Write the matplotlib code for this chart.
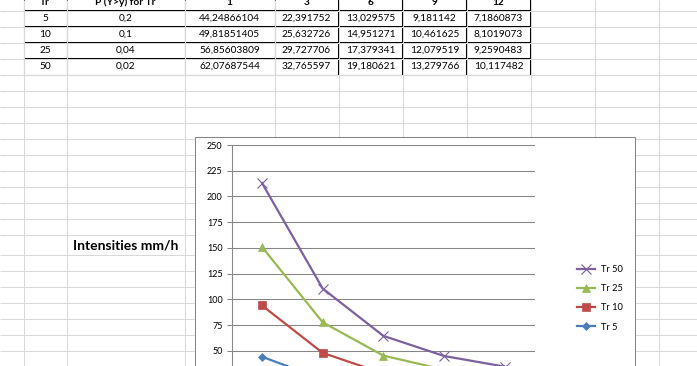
import numpy as np
import matplotlib
matplotlib.use("Agg")
import matplotlib.pyplot as plt
from matplotlib.patches import Rectangle

plt.rcParams['font.family'] = ['Lato', 'DejaVu Sans']

# spreadsheet data
durations = ['1', '3', '6', '9', '12']
return_periods = ['5', '10', '25', '50']
probabilities = [0.2, 0.1, 0.04, 0.02]
tr5 = [44.24866104, 22.391752, 13.029575, 9.181142, 7.1860873]
tr10 = [49.81851405, 25.632726, 14.951271, 10.461625, 8.1019073]
tr25 = [56.85603809, 29.727706, 17.379341, 12.079519, 9.2590483]
tr50 = [62.07687544, 32.765597, 19.180621, 13.279766, 10.117482]
series_labels = ['Tr 5', 'Tr 10', 'Tr 25', 'Tr 50']
series_colors = ['#4A7EBB', '#BE4B48', '#98B954', '#7D60A0']
series_markers = ['D', 's', '^', 'x']
yticks = list(range(0, 251, 25))

W, H = 697, 366
fig = plt.figure(figsize=(W / 100, H / 100), dpi=100)

# sheet background (pixel coordinates)
bg = fig.add_axes([0, 0, 1, 1])
bg.set_xlim(0, W)
bg.set_ylim(H, 0)
bg.axis('off')

col_edges = [23.5, 66.5, 184.5, 274.5, 338.5, 402.5, 466.5, 530.5, 594.5, 658.5]
row_edges = [-5.5, 10.5, 26.5, 42.5, 58.5, 74.5, 90.5, 106.5, 122.5, 138.5,
             154.5, 170.5, 186.5, 202.5, 218.5, 234.5, 254.5, 270.5, 286.5,
             302.5, 318.5, 334.5, 350.5]
grid_c = '#D9D9D9'
bg.vlines(col_edges, 0, H, color=grid_c, lw=0.75)
bg.hlines(row_edges, 0, W, color=grid_c, lw=0.75)

# data table
header = ['Tr', 'P (Y>y) for Tr'] + durations
rows = []
for tr, p, vals in zip(return_periods, probabilities, [tr5, tr10, tr25, tr50]):
    rows.append([tr, str(p).replace('.', ',')] + [str(v).replace('.', ',') for v in vals])
tx0, tx1 = col_edges[0], col_edges[7]
ty0, ty1 = row_edges[0], row_edges[5]
widths = np.diff(col_edges[:8])
tbl = bg.table(cellText=rows, colLabels=header, cellLoc='center',
               colWidths=list(widths / widths.sum()),
               bbox=[tx0 / W, 1 - ty1 / H, (tx1 - tx0) / W, (ty1 - ty0) / H])
tbl.auto_set_font_size(False)
tbl.set_fontsize(7.3)
for (r, c), cell in tbl.get_celld().items():
    cell.set_edgecolor('black')
    cell.set_linewidth(0.75)
    cell.set_facecolor('white')
    if r == 0:
        cell.get_text().set_fontweight('bold')

bg.text(125.5, 245, 'Intensities mm/h', ha='center', va='center',
        fontsize=10, fontweight='bold', color='black')

# chart box
bg.add_patch(Rectangle((194.5, 136.5), 440, 300, facecolor='white',
                       edgecolor='#868686', lw=0.75, zorder=3))

# plot area: y=250 at 145 px, y=0 at 402 px (below the visible crop)
px_l, px_r, px_top, px_bot = 231.7, 535.0, 145.0, 402.3
ax = fig.add_axes([px_l / W, 1 - px_bot / H, (px_r - px_l) / W, (px_bot - px_top) / H])
ax.set_facecolor('none')

x = np.arange(len(durations))
stacked = np.cumsum(np.array([tr5, tr10, tr25, tr50]), axis=0)
handles = []
for vals, lab, col, mk in zip(stacked, series_labels, series_colors, series_markers):
    ms = {'D': 4.5, 's': 5.5, '^': 6, 'x': 7.5}[mk]
    h, = ax.plot(x, vals, color=col, lw=1.6, marker=mk, markersize=ms,
                 markeredgewidth=0.8 if mk == 'x' else 0.5, label=lab, clip_on=False)
    handles.append(h)

ax.set_xlim(-0.5, len(durations) - 0.5)
ax.set_ylim(0, 250)
ax.set_yticks(yticks)
ax.set_xticks(x)
ax.grid(axis='y', color='#868686', lw=0.75)
ax.set_axisbelow(True)
for s in ['top', 'right', 'bottom']:
    ax.spines[s].set_visible(False)
ax.spines['left'].set_color('#868686')
ax.spines['left'].set_linewidth(0.75)
ax.tick_params(axis='y', length=3.6, width=0.75, color='#868686', pad=3,
               labelsize=6.5, labelcolor='black')
ax.tick_params(axis='x', length=0, labelbottom=False)
# the lowest tick labels sit below the cropped screenshot
for val, tick in zip(yticks, ax.yaxis.get_major_ticks()):
    if val < 50:
        tick.label1.set_visible(False)

fig.legend(handles[::-1], series_labels[::-1], loc='upper left',
           bbox_to_anchor=(577 / W, 1 - 265 / H), frameon=False,
           fontsize=6.7, handlelength=1.94, handletextpad=0.65,
           labelspacing=1.1, borderpad=0, borderaxespad=0, numpoints=1)

fig.savefig('out.png', dpi=100)
